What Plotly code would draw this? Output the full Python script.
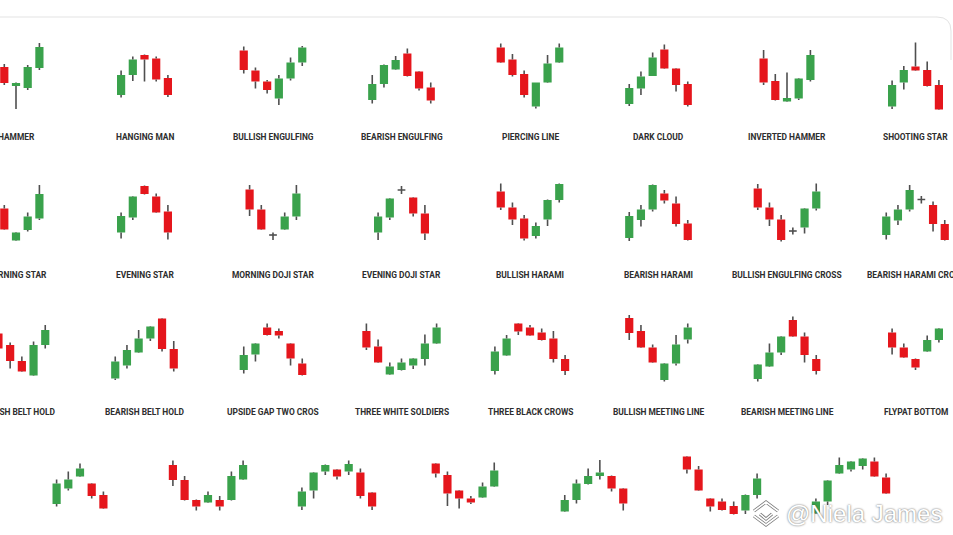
import plotly.graph_objects as go

W, H = 953, 535
GREEN = "#3aa24c"
RED = "#e5161c"
WICK = "#4f4f4f"
LABEL_COLOR = "#2e2e2e"

# ---------------- data: each candle = (open, high, low, close) ----------------
# Row 1
hammer = [(68, 70, 50, 52), (53, 56, 35, 37), (34, 37.5, 11, 37), (32, 55, 30, 53), (52, 77, 50, 73)]
hanging_man = [(25, 49.5, 22.5, 45), (45, 63.5, 39, 60.5), (65, 65.5, 38.5, 60.5), (61.5, 63.5, 38.5, 40.5), (42, 45, 23, 25)]
bullish_engulfing = [(69.5, 73.5, 46.5, 50), (49.5, 52.5, 31.5, 38.5), (38.5, 40, 26.5, 30), (21.5, 45, 15, 41.5), (41.5, 62.5, 39.5, 57.5), (57.5, 74, 54, 72.5)]
bearish_engulfing = [(20, 45, 16.5, 36), (36, 55.5, 32.5, 55), (50.5, 64, 50, 60), (66.5, 71.5, 43.5, 44), (48.5, 49, 29.5, 31.5), (32.5, 37.5, 16.5, 19.5)]
piercing_line = [(72.5, 76.5, 57, 57.5), (60.5, 66, 43.5, 45), (46, 49.5, 22.5, 25), (13.5, 37.5, 11.5, 37.5), (37.5, 65, 37, 56.5), (57.5, 76.5, 57, 72.5)]
dark_cloud = [(16, 36, 14, 32), (31.5, 48.5, 25, 43.5), (44, 67.5, 44, 62.5), (70.5, 75.5, 51, 51.5), (51.5, 52, 28.5, 35), (36, 38.5, 13.5, 15)]
inverted_hammer = [(61.5, 70, 35, 37.5), (39, 46, 19.5, 20), (18.5, 47.5, 18, 22), (21.5, 42, 20, 41.5), (40, 70, 38.5, 65)]
shooting_star = [(13.5, 39.5, 11, 35), (37.5, 54, 30.5, 50), (53.5, 77.5, 49, 49.5), (50, 58.5, 33.5, 34), (35, 40, 10, 10.5)]

# Row 2
morning_star = [(75, 78, 52, 55), (51.5, 55, 30, 30.5), (19.5, 28, 19, 27.5), (30, 47.5, 28.5, 43.5), (41.5, 75, 40, 66)]
evening_star = [(27.5, 47.5, 21.5, 44), (42.5, 64, 40, 63.5), (74, 74.5, 65.5, 66), (63.5, 66.5, 47, 47.5), (48.5, 55, 20.5, 27.5)]
morning_doji_star = [(70.5, 75, 44, 50.5), (50.5, 55, 30, 30.5), (25, 27.5, 20, 25), (30.5, 47.5, 30, 43.5), (43.5, 75, 40, 66.5)]
evening_doji_star = [(27.5, 47.5, 20, 43.5), (42.5, 62, 40, 61.5), (70, 74, 66, 70), (62.5, 63, 43.5, 46.5), (46.5, 55, 20, 26.5)]
bullish_harami = [(68.5, 76.5, 50, 52.5), (52.5, 57.5, 35, 40.5), (41.5, 45, 19.5, 21.5), (24, 37.5, 21.5, 34), (40.5, 60.5, 34, 60), (60, 76.5, 57.5, 76)]
bearish_harami = [(22, 48, 19, 44), (40, 55, 33.5, 50.5), (50.5, 75.5, 48.5, 75), (66.5, 70, 56.5, 59.5), (56.5, 63.5, 33.5, 36), (36.5, 40, 19.5, 20)]
bullish_engulfing_cross = [(71.5, 76, 50, 52.5), (52.5, 57.5, 34, 40.5), (40.5, 45, 18.5, 20), (29, 32.5, 25.5, 29), (32.5, 52, 26.5, 51.5), (51.5, 76.5, 49.5, 68.5)]
bearish_harami_cross = [(25, 47.5, 20.5, 43.5), (39.5, 55, 35, 50.5), (50.5, 75, 48.5, 70), (60.5, 64, 56.5, 60.5), (55, 58.5, 28.5, 36), (36, 40, 19.5, 20)]

# Row 3
bullish_belt_hold = [(77, 80, 57, 60), (61.5, 64, 44, 46.5), (50, 52.5, 26.5, 34), (34, 38.5, 23, 23.5), (19.5, 53.5, 19, 50), (50, 70, 46.5, 65)]
bearish_belt_hold = [(16.5, 38.5, 15, 33.5), (29.5, 50, 26.5, 45), (42.5, 65, 42, 56.5), (56.5, 69, 54, 68.5), (76.5, 77, 43.5, 46), (46, 54, 23.5, 26.5)]
upside_gap_two_crows = [(25, 48.5, 21.5, 40), (40.5, 52, 33.5, 51.5), (67.5, 71.5, 59.5, 60), (64, 66.5, 56.5, 59.5), (51.5, 52, 29.5, 36.5), (31.5, 36.5, 19.5, 20)]
three_white_soldiers = [(64, 71.5, 45, 47.5), (48.5, 55.5, 32, 32.5), (20.5, 32.5, 20, 28.5), (25, 36.5, 24.5, 32.5), (29.5, 37, 26, 36.5), (36, 60.5, 29.5, 51.5), (51.5, 71.5, 51, 67.5)]
three_black_crows = [(24, 48.5, 20.5, 43.5), (39.5, 60, 39, 56.5), (71.5, 72, 60, 63.5), (67.5, 70, 59, 59.5), (62.5, 66.5, 54.5, 55), (56.5, 64, 32.5, 36), (36, 40, 20, 24)]
bullish_meeting_line = [(77, 80, 55, 62), (64, 70, 47, 47.5), (47.5, 50.5, 32, 32.5), (15, 32, 13.5, 31.5), (31.5, 60, 29.5, 50.5), (55.5, 71.5, 51.5, 67.5)]
bearish_meeting_line = [(16, 31, 13.5, 30.5), (28.5, 51.5, 28, 42.5), (42.5, 59, 40, 58.5), (75, 78.5, 58, 58.5), (58.5, 62.5, 32.5, 40), (36, 40, 20.5, 24)]
flypat_bottom = [(62.5, 66.5, 40.5, 47.5), (47.5, 51.5, 37, 37.5), (36, 36.5, 25, 27.5), (43.5, 59.5, 43, 55), (55, 67, 52.5, 66.5)]

# Row 4 (labels cut off in the picture)
row4_a = [(31, 55.5, 28.5, 51.5), (46.5, 63.5, 44.5, 55.5), (58.5, 71.5, 58, 66.5), (51.5, 52, 36.5, 39), (40, 43.5, 26, 26.5)]
row4_b = [(70, 74.5, 49, 55), (55, 59, 34.5, 35), (35, 35.5, 24.5, 28.5), (32.5, 43.5, 32, 40), (35, 39, 24.5, 28.5), (35, 63.5, 34.5, 59), (55.5, 74.5, 55, 70)]
row4_c = [(28.5, 47.5, 25, 43.5), (44.5, 63, 36.5, 62.5), (63.5, 70.5, 60, 70), (65.5, 66, 55.5, 58.5), (63.5, 74.5, 60, 71), (62.5, 66.5, 36.5, 39), (42.5, 43, 25, 28.5)]
row4_d = [(71.5, 72, 57.5, 61.5), (60, 63.5, 29, 41.5), (44.5, 45, 26.5, 36.5), (36.5, 39, 31, 32.5), (37.5, 52.5, 37, 48.5), (48.5, 72.5, 48, 64.5)]
row4_e = [(23.5, 40, 23, 35), (35, 55.5, 31.5, 51.5), (51, 66.5, 50.5, 59), (59, 75, 55.5, 62.5), (59, 59.5, 43.5, 46.5), (46.5, 47, 24.5, 31.5)]
row4_f = [(78.5, 79, 61.5, 65.5), (65.5, 69, 44, 44.5), (36.5, 37, 23.5, 28.5), (33.5, 36.5, 24.5, 25), (29, 33.5, 20.5, 21), (24.5, 40.5, 21, 40), (40, 61.5, 36.5, 56.5)]
row4_g = [(21.5, 36.5, 21, 33.5), (33.5, 55, 30, 54.5), (61.5, 77.5, 61, 70), (65.5, 74, 63.5, 73.5), (69, 77, 65.5, 76.5), (73.5, 77.5, 58, 58.5), (57.5, 61.5, 41, 41.5)]

row1_labels = ["HAMMER", "HANGING MAN", "BULLISH ENGULFING", "BEARISH ENGULFING",
               "PIERCING LINE", "DARK CLOUD", "INVERTED HAMMER", "SHOOTING STAR"]
row2_labels = ["MORNING STAR", "EVENING STAR", "MORNING DOJI STAR", "EVENING DOJI STAR",
               "BULLISH HARAMI", "BEARISH HARAMI", "BULLISH ENGULFING CROSS", "BEARISH HARAMI CROSS"]
row3_labels = ["BULLISH BELT HOLD", "BEARISH BELT HOLD", "UPSIDE GAP TWO CROS", "THREE WHITE SOLDIERS",
               "THREE BLACK CROWS", "BULLISH MEETING LINE", "BEARISH MEETING LINE", "FLYPAT BOTTOM"]

row1 = [hammer, hanging_man, bullish_engulfing, bearish_engulfing, piercing_line, dark_cloud, inverted_hammer, shooting_star]
row2 = [morning_star, evening_star, morning_doji_star, evening_doji_star, bullish_harami, bearish_harami, bullish_engulfing_cross, bearish_harami_cross]
row3 = [bullish_belt_hold, bearish_belt_hold, upside_gap_two_crows, three_white_soldiers, three_black_crows, bullish_meeting_line, bearish_meeting_line, flypat_bottom]
row4 = [row4_a, row4_b, row4_c, row4_d, row4_e, row4_f, row4_g]

# ---------------- layout geometry (pixels) ----------------
COL_CENTERS = [16, 144.5, 273, 401.5, 530, 658.5, 787, 915.5]
ROW4_CENTERS = [80, 208, 337, 465, 594, 722, 851]
ROW_TOPS = [30, 170, 305, 445]
ROW_H = 90
LABEL_Y = [137, 275, 411.5]
STEP = 11.7      # pixels per candle slot
HALF = 64        # half width of each pattern cell

fig = go.Figure()
axes = {}

cells = []
for r, row in enumerate([row1, row2, row3]):
    for c, pat in enumerate(row):
        cells.append((pat, COL_CENTERS[c], ROW_TOPS[r]))
for c, pat in enumerate(row4):
    cells.append((pat, ROW4_CENTERS[c], ROW_TOPS[3]))

for idx, (pat, cx, top) in enumerate(cells, start=1):
    n = len(pat)
    xs = list(range(n))
    op = [v[0] for v in pat]
    hi = [v[1] for v in pat]
    lo = [v[2] for v in pat]
    cl = [v[3] for v in pat]
    xa = "x" if idx == 1 else f"x{idx}"
    ya = "y" if idx == 1 else f"y{idx}"
    fig.add_trace(go.Candlestick(
        x=xs, open=op, high=hi, low=lo, close=cl, xaxis=xa, yaxis=ya,
        increasing=dict(fillcolor=GREEN, line=dict(color=GREEN, width=0)),
        decreasing=dict(fillcolor=RED, line=dict(color=RED, width=0)),
        whiskerwidth=0, showlegend=False, hoverinfo="skip"))
    # dark wicks outside the bodies, and doji crosses
    wx, wy = [], []
    for i in xs:
        btop, bbot = max(op[i], cl[i]), min(op[i], cl[i])
        if hi[i] > btop:
            wx += [i, i, None]; wy += [hi[i], btop, None]
        if lo[i] < bbot:
            wx += [i, i, None]; wy += [bbot, lo[i], None]
        if op[i] == cl[i]:
            wx += [i - 0.33, i + 0.33, None]; wy += [op[i], op[i], None]
    fig.add_trace(go.Scatter(x=wx, y=wy, mode="lines", xaxis=xa, yaxis=ya,
                             line=dict(color=WICK, width=1.6),
                             showlegend=False, hoverinfo="skip"))
    cc = (n - 1) / 2
    L, R = max(0, cx - HALF), min(W, cx + HALF)
    xkey = "xaxis" if idx == 1 else f"xaxis{idx}"
    ykey = "yaxis" if idx == 1 else f"yaxis{idx}"
    axes[xkey] = dict(domain=[L / W, R / W], range=[cc + (L - cx) / STEP, cc + (R - cx) / STEP],
                      visible=False, fixedrange=True, anchor=ya,
                      rangeslider=dict(visible=False))
    axes[ykey] = dict(domain=[1 - (top + ROW_H) / H, 1 - top / H], range=[0, ROW_H],
                      visible=False, fixedrange=True, anchor=xa)

annotations = []
for r, labels in enumerate([row1_labels, row2_labels, row3_labels]):
    for c, lab in enumerate(labels):
        annotations.append(dict(
            text=lab, x=COL_CENTERS[c] / W, y=1 - LABEL_Y[r] / H, xref="paper", yref="paper",
            xanchor="center", yanchor="middle", showarrow=False,
            font=dict(family="Roboto", size=8.4, color=LABEL_COLOR, weight=700)))

# watermark
annotations.append(dict(
    text="@Niela James", x=864 / W, y=1 - 513 / H, xref="paper", yref="paper",
    xanchor="center", yanchor="middle", showarrow=False,
    font=dict(family="Liberation Sans", size=24, color="white",
              shadow="0px 0px 2px rgba(60,60,60,0.9)")))


def px(x, y):
    return f"{x / W:.5f},{1 - y / H:.5f}"


logo = (f"M {px(754, 511)} L {px(766, 502)} L {px(778, 511)} "
        f"M {px(754, 516)} L {px(766, 525)} L {px(778, 516)} "
        f"M {px(760, 514)} L {px(766, 519)} L {px(772, 514)}")
shapes = [
    # card border at the top with rounded right corner
    dict(type="path", xref="paper", yref="paper",
         path=f"M {px(-2, 17)} L {px(937, 17)} Q {px(951, 17)} {px(951, 31)} L {px(951, 60)}",
         line=dict(color="#e3e3e3", width=1)),
    # watermark logo
    dict(type="path", xref="paper", yref="paper", path=logo,
         line=dict(color="rgba(90,90,90,0.8)", width=3.2)),
    dict(type="path", xref="paper", yref="paper", path=logo,
         line=dict(color="white", width=1.6)),
]

fig.update_layout(
    width=W, height=H, margin=dict(l=0, r=0, t=0, b=0),
    paper_bgcolor="white", plot_bgcolor="rgba(0,0,0,0)",
    showlegend=False, annotations=annotations, shapes=shapes,
    boxgap=0.3, boxgroupgap=0, **axes)

fig.write_html("out.html", config={"displayModeBar": False})
